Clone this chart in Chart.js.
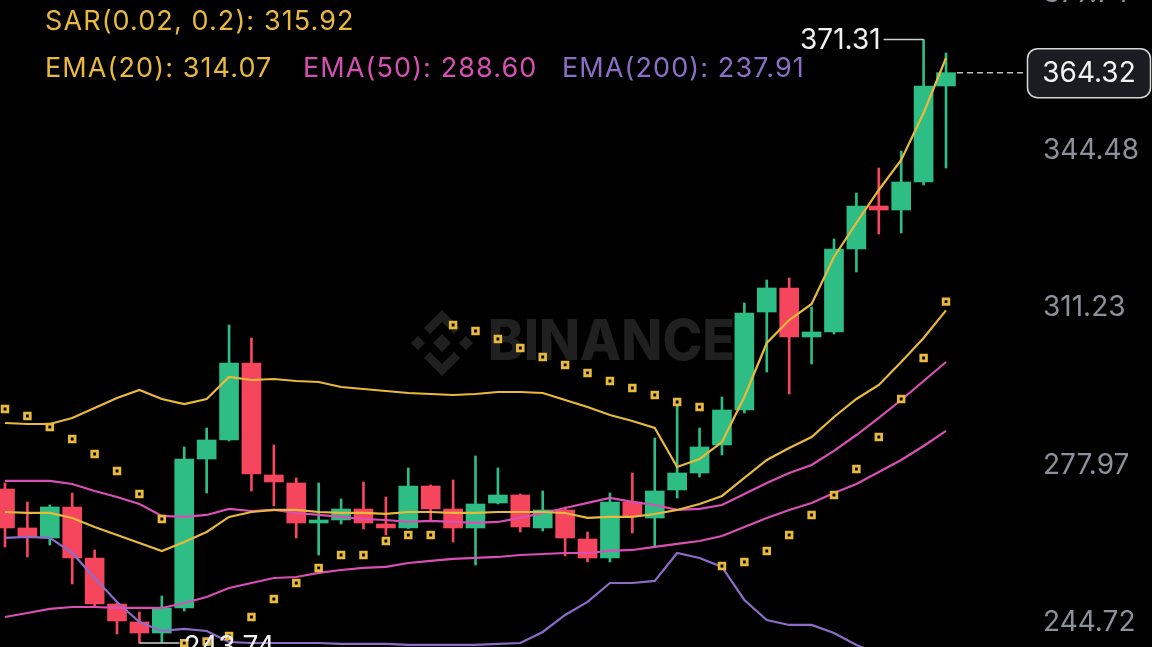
<!DOCTYPE html>
<html>
<head>
<meta charset="utf-8">
<script src="https://cdn.jsdelivr.net/npm/chart.js@4.4.1/dist/chart.umd.min.js"></script>
<style>
  html, body { margin: 0; padding: 0; background: #000; }
  #wrap { position: relative; width: 1152px; height: 647px; overflow: hidden; background: #000; }
  #wrap canvas { position: absolute; left: 0; top: 0; }
  .leg { position: absolute; font-family: Inter, Roboto, sans-serif; font-size: 27px; line-height: 32px; letter-spacing: 1.1px; white-space: nowrap; }
</style>
</head>
<body>
<div id="wrap">
  <canvas id="chart" width="1152" height="647"></canvas>
  <div class="leg" id="leg0" style="left:45px; top:5px; color:#e8b83f"></div>
  <div class="leg" id="leg1" style="left:45px; top:52px; color:#e8b83f"></div>
  <div class="leg" id="leg2" style="left:303px; top:52px; color:#d650b2"></div>
  <div class="leg" id="leg3" style="left:562px; top:52px; color:#8c6ec8"></div>
</div>
<script>
// valores (um candle por índice)
const opens = [276.32, 268.08, 265.96, 272.52, 261.74, 252.01, 248.21, 245.88, 251.17, 282.66, 286.68, 302.95, 279.28, 277.59, 269.13, 269.77, 272.09, 268.92, 268.08, 276.95, 272.09, 268.08, 273.36, 275.05, 268.08, 271.88, 265.75, 261.74, 273.57, 270.19, 276.11, 279.70, 285.62, 293.02, 313.73, 318.81, 308.45, 309.51, 327.05, 336.14, 335.29, 341.21, 361.50];
const highs = [277.59, 273.57, 272.94, 275.47, 263.43, 252.22, 250.32, 253.70, 285.20, 289.21, 310.98, 308.24, 285.62, 278.65, 277.59, 274.21, 277.80, 274.63, 280.76, 277.17, 278.22, 283.30, 280.76, 275.26, 275.90, 272.52, 267.23, 275.47, 279.70, 287.10, 294.08, 289.21, 295.77, 315.63, 320.50, 320.92, 314.79, 329.16, 338.89, 344.17, 347.76, 371.31, 368.48];
const lows = [264.06, 261.95, 264.48, 256.24, 251.38, 245.67, 243.74, 243.90, 250.53, 275.47, 286.47, 275.90, 272.73, 265.96, 262.37, 268.92, 267.87, 266.60, 267.95, 269.56, 265.12, 260.26, 273.15, 267.23, 267.44, 262.16, 260.89, 260.89, 267.02, 264.06, 274.42, 278.86, 283.51, 292.38, 301.05, 296.40, 302.74, 309.08, 322.19, 330.22, 330.43, 340.58, 344.17];
const closes = [268.08, 266.17, 272.52, 261.74, 252.01, 248.42, 245.88, 251.17, 282.66, 286.68, 302.95, 279.49, 277.80, 269.13, 269.77, 272.09, 269.13, 268.08, 276.95, 272.09, 268.08, 273.15, 275.05, 268.29, 271.88, 265.96, 261.74, 273.57, 270.61, 275.90, 279.70, 285.20, 293.02, 313.52, 318.81, 308.45, 309.51, 327.05, 336.14, 335.29, 341.21, 361.50, 364.32];

// linhas
const fastLine = [290.27, 290.06, 290.06, 291.33, 293.44, 295.55, 297.24, 295.34, 294.28, 295.34, 299.99, 299.36, 299.57, 299.15, 298.93, 297.88, 297.46, 297.03, 296.61, 296.40, 296.19, 296.40, 296.82, 296.82, 296.61, 295.13, 293.65, 291.96, 290.69, 289.21, 280.97, 282.66, 286.25, 295.76, 307.18, 312.04, 315.42, 325.36, 332.55, 339.52, 345.86, 355.79, 367.42];
const ema20 = [271.46, 271.25, 271.25, 270.20, 268.29, 266.60, 264.91, 263.22, 265.12, 267.24, 270.41, 271.46, 271.89, 271.89, 271.46, 271.25, 271.25, 271.04, 271.46, 271.46, 271.25, 271.25, 271.46, 271.46, 271.46, 271.25, 270.20, 270.41, 270.41, 271.04, 271.89, 273.15, 274.85, 278.65, 282.45, 284.98, 287.31, 291.54, 295.34, 298.30, 303.16, 308.24, 314.07];
const midLine = [278.02, 278.02, 278.02, 277.38, 275.90, 274.63, 273.15, 270.62, 270.41, 270.83, 272.10, 271.67, 271.89, 271.25, 270.83, 270.41, 269.98, 269.77, 269.35, 269.56, 269.35, 269.14, 269.35, 270.20, 271.25, 272.31, 273.37, 274.42, 273.58, 272.94, 271.89, 272.10, 272.94, 275.27, 277.59, 279.71, 281.40, 284.36, 287.73, 291.33, 295.13, 299.15, 303.16];
const ema50 = [249.27, 250.11, 250.96, 251.38, 251.38, 251.17, 251.17, 251.17, 252.23, 253.49, 255.40, 256.45, 257.51, 257.72, 258.57, 259.20, 259.63, 259.84, 260.68, 261.11, 261.53, 261.74, 261.95, 262.37, 262.58, 262.79, 262.79, 263.22, 263.43, 264.07, 264.70, 265.33, 266.39, 268.29, 270.20, 271.89, 273.37, 275.48, 277.38, 279.92, 282.45, 285.41, 288.60];
const ema200 = [265.97, 266.18, 265.97, 262.80, 257.51, 252.44, 248.21, 246.31, 246.73, 246.31, 243.98, 243.77, 243.77, 243.77, 243.77, 243.56, 243.56, 243.56, 243.35, 243.35, 243.35, 243.35, 243.56, 243.77, 246.10, 249.69, 252.44, 256.45, 256.45, 256.88, 262.80, 261.74, 259.84, 252.86, 248.63, 247.58, 247.58, 245.89, 243.35, 241.45, 239.97, 238.91, 237.91];
const sar = [293.23, 291.75, 289.42, 286.89, 283.72, 280.13, 275.27, 269.98, 243.74, 244.10, 245.25, 249.27, 253.07, 256.45, 259.63, 262.37, 262.37, 265.33, 266.60, 266.60, 310.99, 309.72, 308.03, 306.13, 304.23, 302.54, 300.85, 299.15, 297.67, 296.19, 294.71, 293.65, 260.05, 260.89, 263.22, 266.60, 270.83, 275.06, 280.55, 287.31, 295.34, 304.01, 315.92];

const priceTicks = [377.74, 344.48, 311.23, 277.97, 244.72];
const legendNames = ["SAR(0.02, 0.2)", "EMA(20)", "EMA(50)", "EMA(200)"];
const legendValues = [315.92, 314.07, 288.60, 237.91];

legendNames.forEach((n, i) => {
  document.getElementById("leg" + i).textContent = n + ": " + legendValues[i].toFixed(2);
});

const UP = "#2ebd85";
const DOWN = "#f6465d";
const FONT = "Inter, Roboto, sans-serif";
// faixa visivel: preco no topo e na base do canvas, e passo dos candles em px
const PRICE_TOP = 379.68, PRICE_BOTTOM = 242.92;
const FIRST_X = 5, STEP = 22.405;

const candleColor = opens.map((o, i) => closes[i] >= o ? UP : DOWN);
const pts = arr => arr.map((v, i) => ({ x: i, y: v }));

const extras = {
  id: "extras",
  // mantem a escala presa ao canvas inteiro
  afterLayout(chart) {
    const a = chart.chartArea, ys = chart.scales.y, xs = chart.scales.x;
    const k = (PRICE_TOP - PRICE_BOTTOM) / chart.height;
    ys.max = PRICE_TOP - k * a.top;
    ys.min = PRICE_TOP - k * a.bottom;
    ys.configure();
    xs.min = (a.left - FIRST_X) / STEP;
    xs.max = (a.right - FIRST_X) / STEP;
    xs.configure();
  },
  beforeDatasetsDraw(chart) {
    const ctx = chart.ctx;
    ctx.save();
    ctx.fillStyle = "#202020";
    const cx = 442, cy = 343;
    const diamond = (x, y, r) => {
      ctx.beginPath();
      ctx.moveTo(x, y - r); ctx.lineTo(x + r, y); ctx.lineTo(x, y + r); ctx.lineTo(x - r, y);
      ctx.closePath(); ctx.fill();
    };
    diamond(cx, cy, 9);
    diamond(cx - 24, cy, 7);
    diamond(cx + 24, cy, 7);
    [-1, 1].forEach(s => {
      ctx.beginPath();
      ctx.moveTo(cx, cy + s * 33);
      ctx.lineTo(cx + 18, cy + s * 15);
      ctx.lineTo(cx + 12, cy + s * 9);
      ctx.lineTo(cx, cy + s * 21);
      ctx.lineTo(cx - 12, cy + s * 9);
      ctx.lineTo(cx - 18, cy + s * 15);
      ctx.closePath(); ctx.fill();
    });
    ctx.font = "800 56px " + FONT;
    ctx.textBaseline = "middle";
    const w = ctx.measureText("BINANCE").width;
    ctx.translate(488, cy);
    ctx.scale(247 / w, 1);
    ctx.fillText("BINANCE", 0, 0);
    ctx.restore();
  },
  afterDatasetsDraw(chart) {
    const ctx = chart.ctx;
    const xs = chart.scales.x, ys = chart.scales.y;
    ctx.save();
    ctx.font = "28px " + FONT;
    ctx.textBaseline = "middle";
    ctx.strokeStyle = "#cfcfcf";
    ctx.lineWidth = 1.5;

    const hi = Math.max(...highs), hiIdx = highs.indexOf(hi);
    const hx = xs.getPixelForValue(hiIdx), hy = ys.getPixelForValue(hi);
    ctx.beginPath(); ctx.moveTo(hx, hy); ctx.lineTo(hx - 40, hy); ctx.stroke();
    ctx.fillStyle = "#f0f0f0";
    ctx.textAlign = "right";
    ctx.fillText(hi.toFixed(2), hx - 43, hy + 1);

    const lo = Math.min(...lows), loIdx = lows.indexOf(lo);
    const lx = xs.getPixelForValue(loIdx), ly = ys.getPixelForValue(lo);
    ctx.beginPath(); ctx.moveTo(lx, ly); ctx.lineTo(lx + 40, ly); ctx.stroke();
    ctx.textAlign = "left";
    ctx.fillText(lo.toFixed(2), lx + 44, ly + 4);

    const last = closes[closes.length - 1];
    const px = xs.getPixelForValue(closes.length - 1) + 11;
    const py = ys.getPixelForValue(last);
    ctx.setLineDash([6, 4]);
    ctx.strokeStyle = "#bdbdbd";
    ctx.beginPath(); ctx.moveTo(px, py); ctx.lineTo(1027, py); ctx.stroke();
    ctx.setLineDash([]);
    ctx.beginPath();
    ctx.roundRect(1027.5, py - 24, 123, 49, 10);
    ctx.fillStyle = "#1a1c21";
    ctx.fill();
    ctx.strokeStyle = "#d6d6d6";
    ctx.stroke();
    ctx.fillStyle = "#f2f2f2";
    ctx.textAlign = "center";
    ctx.fillText(last.toFixed(2), 1089, py + 1);
    ctx.restore();
  }
};

new Chart(document.getElementById("chart"), {
  type: "bar",
  data: {
    datasets: [
      {
        type: "line", data: pts(sar), showLine: false, order: 0,
        pointStyle: "rect", pointRadius: 4, pointBorderWidth: 2.8,
        pointBorderColor: "#e8b83f", pointBackgroundColor: "#000"
      },
      { type: "line", data: pts(fastLine), borderColor: "#e9b93a", borderWidth: 2.2, pointRadius: 0, tension: 0, order: 1 },
      { type: "line", data: pts(ema20), borderColor: "#e9b93a", borderWidth: 2.2, pointRadius: 0, tension: 0, order: 1 },
      { type: "line", data: pts(midLine), borderColor: "#d94fb5", borderWidth: 2.2, pointRadius: 0, tension: 0, order: 1 },
      { type: "line", data: pts(ema50), borderColor: "#d94fb5", borderWidth: 2.2, pointRadius: 0, tension: 0, order: 1 },
      { type: "line", data: pts(ema200), borderColor: "#8e6bc9", borderWidth: 2.2, pointRadius: 0, tension: 0, order: 1 },
      {
        data: opens.map((o, i) => ({ x: i, y: [o, closes[i]] })),
        backgroundColor: candleColor, borderWidth: 0, barThickness: 19, grouped: false, order: 2
      },
      {
        data: lows.map((l, i) => ({ x: i, y: [l, highs[i]] })),
        backgroundColor: candleColor, borderWidth: 0, barThickness: 2, grouped: false, order: 3
      }
    ]
  },
  options: {
    responsive: false,
    animation: false,
    events: [],
    layout: { padding: 0, autoPadding: false },
    plugins: { legend: { display: false }, tooltip: { enabled: false } },
    scales: {
      x: { type: "linear", display: false, offset: false, min: -0.2232, max: 45.749 },
      y: {
        position: "right",
        min: PRICE_BOTTOM, max: PRICE_TOP,
        grid: { display: false, drawTicks: false },
        border: { display: false },
        afterFit: scale => {
          scale.width = 122;
          scale.paddingTop = 0;
          scale.paddingBottom = 0;
        },
        afterBuildTicks: scale => { scale.ticks = priceTicks.map(v => ({ value: v })); },
        ticks: {
          padding: 13, crossAlign: "near", labelOffset: -16,
          color: "#8b9099", font: { family: FONT, size: 28 },
          callback: v => Number(v).toFixed(2)
        }
      }
    }
  },
  plugins: [extras]
});
</script>
</body>
</html>
